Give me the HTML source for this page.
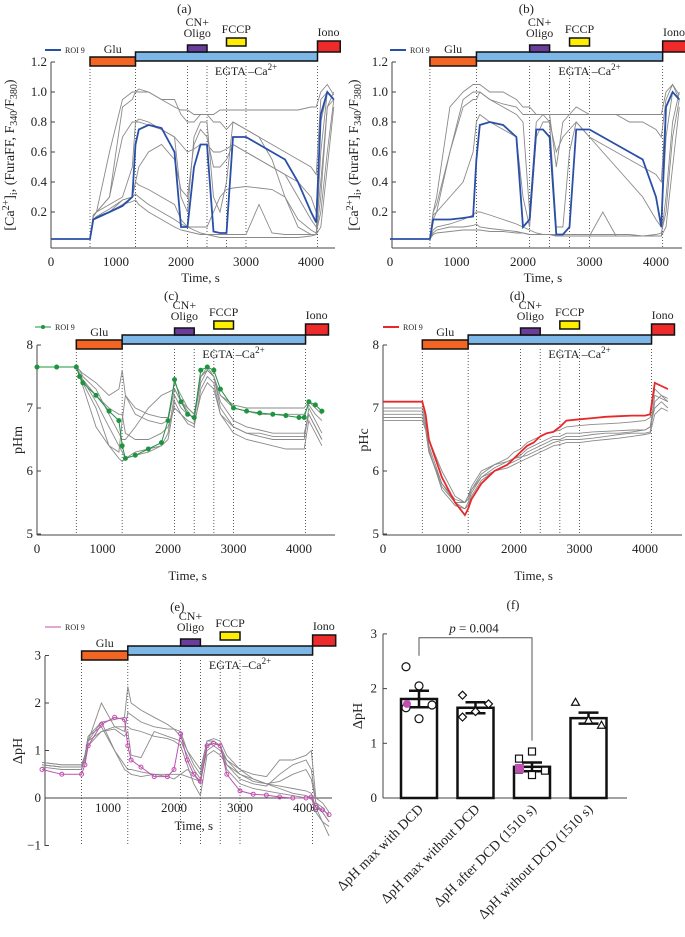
<!DOCTYPE html>
<html><head><meta charset="utf-8">
<style>
html,body{margin:0;padding:0;background:#fff;}
svg{display:block;font-family:"Liberation Serif",serif;}
</style></head>
<body>
<svg id="fig" width="685" height="937" viewBox="0 0 685 937" xmlns="http://www.w3.org/2000/svg"></svg>
<script>
const T=[0,300,600,650,700,900,1100,1250,1300,1350,1500,1700,1900,2000,2100,2200,2300,2400,2500,2600,2700,2800,3000,3200,3400,3600,3800,4000,4080,4150,4250,4350];
const treatTimes=[[600,1300],[1300,4100],[2100,2400],[2700,3000],[4100,4450]];
const dotTimes=[600,1300,2100,2400,2700,3000,4100];
const xTicks=[1000,2000,3000,4000];

const aRoi=[0.02,0.02,0.02,0.15,0.16,0.2,0.24,0.3,0.65,0.75,0.78,0.76,0.6,0.1,0.1,0.5,0.65,0.65,0.07,0.06,0.06,0.7,0.7,0.65,0.6,0.55,0.4,0.2,0.13,0.85,1.0,0.95];
const aG1=[0.02,0.02,0.02,0.18,0.2,0.6,0.95,1.0,1.0,1.02,1.0,0.95,0.9,0.88,0.88,0.85,0.85,0.85,0.85,0.88,0.88,0.88,0.88,0.88,0.88,0.88,0.88,0.9,0.9,1.0,1.05,0.98];
const aG2=[0.02,0.02,0.02,0.18,0.2,0.3,0.9,0.95,1.0,1.0,1.0,0.95,0.95,0.85,0.8,0.8,0.85,0.85,0.8,0.8,0.75,0.8,0.75,0.7,0.65,0.6,0.55,0.5,0.45,0.95,1.0,0.95];
const aG3=[0.02,0.02,0.02,0.17,0.2,0.25,0.3,0.5,0.8,0.8,0.78,0.75,0.7,0.3,0.2,0.7,0.8,0.8,0.3,0.2,0.4,0.8,0.75,0.7,0.55,0.3,0.1,0.05,0.05,0.6,1.0,0.95];
const aG4=[0.02,0.02,0.02,0.15,0.17,0.2,0.25,0.3,0.4,0.5,0.6,0.65,0.55,0.35,0.3,0.65,0.75,0.7,0.5,0.5,0.55,0.65,0.6,0.55,0.5,0.45,0.3,0.15,0.1,0.4,0.9,0.95];
const aG5=[0.02,0.02,0.02,0.15,0.17,0.22,0.28,0.3,0.4,0.38,0.35,0.3,0.25,0.15,0.1,0.1,0.1,0.1,0.2,0.3,0.35,0.36,0.37,0.36,0.35,0.3,0.15,0.08,0.06,0.2,0.6,0.95];
const aG6=[0.02,0.02,0.02,0.15,0.17,0.2,0.25,0.27,0.28,0.25,0.2,0.15,0.1,0.08,0.07,0.06,0.05,0.05,0.05,0.05,0.05,0.05,0.05,0.25,0.06,0.05,0.05,0.05,0.05,0.1,0.5,0.9];
const aG7=[0.02,0.02,0.02,0.15,0.17,0.2,0.28,0.3,0.32,0.3,0.25,0.2,0.15,0.12,0.1,0.08,0.06,0.05,0.04,0.03,0.03,0.03,0.03,0.03,0.03,0.03,0.03,0.04,0.05,0.3,0.9,1.0];
const aG8=[0.02,0.02,0.02,0.17,0.2,0.3,0.7,0.8,0.8,0.82,0.8,0.75,0.7,0.65,0.6,0.62,0.65,0.65,0.6,0.6,0.62,0.65,0.6,0.55,0.5,0.45,0.4,0.3,0.2,0.8,1.0,0.95];

const bRoi=[0.02,0.02,0.02,0.15,0.15,0.15,0.16,0.17,0.55,0.78,0.8,0.78,0.7,0.1,0.15,0.75,0.75,0.7,0.05,0.05,0.1,0.75,0.75,0.7,0.65,0.6,0.55,0.3,0.1,0.9,1.0,0.95];
const bG1=[0.02,0.02,0.02,0.2,0.3,0.9,1.0,1.05,1.05,1.05,1.0,1.0,0.95,0.9,0.9,0.85,0.85,0.85,0.85,0.85,0.85,0.85,0.85,0.85,0.85,0.85,0.85,0.85,0.85,1.0,1.05,0.95];
const bG2=[0.02,0.02,0.02,0.2,0.25,0.6,0.95,1.0,1.0,1.0,0.95,0.9,0.85,0.8,0.2,0.8,0.85,0.8,0.6,0.7,0.75,0.8,0.7,0.65,0.6,0.55,0.5,0.45,0.4,0.9,1.0,0.95];
const bG3=[0.02,0.02,0.02,0.18,0.2,0.3,0.4,0.6,0.8,0.85,0.8,0.75,0.7,0.3,0.1,0.7,0.8,0.8,0.1,0.1,0.6,0.8,0.7,0.6,0.5,0.4,0.3,0.15,0.1,0.7,1.0,0.95];
const bG4=[0.02,0.02,0.02,0.08,0.1,0.12,0.15,0.18,0.2,0.2,0.18,0.15,0.12,0.1,0.08,0.06,0.05,0.05,0.04,0.04,0.04,0.04,0.04,0.2,0.04,0.04,0.04,0.04,0.04,0.1,0.5,0.9];
const bG5=[0.02,0.02,0.02,0.05,0.06,0.07,0.08,0.08,0.08,0.08,0.07,0.07,0.06,0.06,0.05,0.05,0.05,0.05,0.05,0.05,0.05,0.05,0.05,0.05,0.05,0.05,0.04,0.04,0.04,0.3,0.8,1.0];
const bG6=[0.02,0.02,0.02,0.06,0.08,0.1,0.1,0.11,0.12,0.1,0.09,0.08,0.07,0.06,0.05,0.05,0.05,0.05,0.04,0.04,0.04,0.04,0.04,0.04,0.04,0.04,0.04,0.05,0.06,0.2,0.7,0.95];
const bG7=[0.02,0.02,0.02,0.15,0.2,0.6,0.9,0.95,0.95,1.0,0.95,0.92,0.9,0.85,0.85,0.85,0.85,0.85,0.5,0.8,0.85,0.9,0.85,0.85,0.85,0.8,0.8,0.75,0.7,0.95,1.05,0.98];

const cRoi=[7.65,7.65,7.65,7.5,7.4,7.2,6.95,6.8,6.4,6.2,6.25,6.35,6.45,6.8,7.45,7.1,6.9,6.85,7.6,7.65,7.6,7.3,7.0,6.95,6.92,6.9,6.88,6.85,6.85,7.1,7.05,6.95];
const cG1=[7.65,7.65,7.65,7.55,7.45,7.1,6.7,6.4,6.3,6.2,6.25,6.3,6.4,6.6,7.2,7.0,6.9,6.85,7.4,7.6,7.5,7.0,6.7,6.6,6.55,6.5,6.5,6.5,6.5,7.0,6.8,6.6];
const cG2=[7.65,7.65,7.65,7.5,7.35,6.7,6.4,6.3,6.8,7.2,7.0,6.9,6.85,6.85,7.4,7.2,7.0,6.9,7.5,7.6,7.5,7.2,7.05,7.0,7.0,7.0,7.0,7.0,7.0,7.1,7.0,6.9];
const cG3=[7.65,7.65,7.65,7.6,7.55,7.4,7.2,7.3,7.6,7.2,6.9,6.8,6.75,6.8,7.3,7.1,6.95,6.8,7.5,7.65,7.5,7.1,6.8,6.7,6.65,6.6,6.6,6.6,6.6,6.9,6.7,6.5];
const cG4=[7.65,7.65,7.65,7.55,7.4,7.0,6.4,6.2,6.15,6.2,6.3,6.35,6.4,6.5,7.1,6.9,6.75,6.7,7.3,7.5,7.4,6.9,6.6,6.5,6.45,6.4,6.35,6.35,6.35,6.8,6.6,6.4];
const cG5=[7.65,7.65,7.65,7.6,7.5,7.3,6.9,6.6,6.5,6.5,6.7,7.0,7.2,7.25,7.3,7.1,7.0,6.9,7.5,7.6,7.5,7.2,7.0,6.95,6.9,6.9,6.9,6.9,6.9,7.05,6.9,6.8];
const cG6=[7.65,7.65,7.65,7.55,7.45,7.2,7.0,6.9,6.9,6.6,6.5,6.5,6.6,6.7,7.0,6.9,6.8,6.75,7.2,7.4,7.3,6.9,6.7,6.6,6.6,6.55,6.55,6.55,6.55,6.9,6.7,6.5];

const dRoi=[7.1,7.1,7.1,6.9,6.5,5.9,5.5,5.3,5.4,5.55,5.8,6.0,6.1,6.2,6.3,6.4,6.45,6.55,6.6,6.62,6.7,6.8,6.82,6.84,6.86,6.87,6.88,6.88,6.9,7.4,7.35,7.3];
const dG1=[6.95,6.95,6.95,6.8,6.4,5.8,5.5,5.4,5.45,5.6,5.85,6.0,6.1,6.15,6.2,6.3,6.35,6.4,6.45,6.5,6.5,6.55,6.55,6.58,6.6,6.6,6.62,6.65,6.7,7.2,7.15,7.1];
const dG2=[6.9,6.9,6.9,6.75,6.35,5.7,5.45,5.4,5.5,5.65,5.9,6.05,6.15,6.2,6.25,6.35,6.4,6.45,6.5,6.55,6.55,6.6,6.6,6.62,6.63,6.64,6.65,6.65,6.7,7.0,7.1,7.0];
const dG3=[6.85,6.85,6.85,6.7,6.3,5.75,5.5,5.5,5.6,5.7,5.9,6.0,6.05,6.1,6.15,6.2,6.25,6.3,6.35,6.4,6.42,6.45,6.45,6.48,6.5,6.52,6.55,6.58,6.6,6.9,7.0,6.95];
const dG4=[7.0,7.0,7.0,6.85,6.5,6.0,5.6,5.5,5.55,5.7,5.95,6.1,6.2,6.3,6.35,6.45,6.5,6.55,6.6,6.62,6.65,6.7,6.72,6.74,6.75,6.76,6.78,6.8,6.85,7.3,7.2,7.1];
const dG5=[6.8,6.8,6.8,6.65,6.3,5.8,5.55,5.5,5.6,5.75,6.0,6.1,6.15,6.2,6.22,6.25,6.3,6.35,6.4,6.45,6.48,6.5,6.5,6.52,6.55,6.58,6.6,6.6,6.62,7.1,7.2,7.15];

const eRoi=[0.6,0.5,0.5,0.7,1.1,1.55,1.7,1.65,1.1,0.8,0.65,0.45,0.45,0.6,1.35,0.8,0.5,0.35,1.1,1.15,1.1,0.5,0.15,0.08,0.06,0.02,0.0,0.0,0.02,-0.2,-0.25,-0.35];
const eG1=[0.75,0.7,0.7,0.9,1.3,1.6,1.65,1.7,2.35,2.0,1.85,1.7,1.55,1.45,1.3,1.0,0.8,0.6,1.2,1.25,1.2,0.9,0.6,0.4,0.3,0.25,0.2,0.15,0.1,-0.2,-0.5,-0.8];
const eG2=[0.7,0.65,0.65,0.85,1.2,2.0,1.5,1.4,1.8,1.75,1.6,1.5,1.45,1.45,1.4,1.0,0.7,0.5,1.2,1.2,1.1,0.7,0.4,0.3,0.25,0.5,0.7,0.8,0.6,-0.1,-0.3,-0.5];
const eG3=[0.7,0.65,0.65,0.8,1.2,1.4,1.45,1.3,1.4,0.9,0.85,1.4,1.3,1.25,1.2,0.9,0.6,0.4,1.1,1.2,1.1,0.8,0.5,0.35,0.3,0.35,0.5,0.6,0.4,-0.1,-0.2,-0.4];
const eG4=[0.65,0.6,0.6,0.8,1.1,1.4,1.5,1.5,1.5,1.45,1.4,1.3,1.25,1.2,1.1,0.7,0.3,0.05,0.9,1.0,0.9,0.7,0.5,0.4,0.3,0.2,0.1,0.05,0.0,-0.3,-0.5,-0.6];
const eG5=[0.75,0.7,0.7,0.9,1.3,1.5,1.0,0.6,0.55,0.5,0.45,0.5,0.5,0.5,0.5,0.45,0.4,0.35,1.0,1.1,1.0,0.8,0.6,0.5,0.45,0.8,0.8,0.9,1.0,0.0,-0.1,-0.3];
const eG6=[0.7,0.65,0.65,0.85,1.2,1.6,1.0,0.7,0.6,0.6,0.55,0.5,0.45,0.4,0.5,0.6,0.5,0.3,1.1,1.2,1.1,0.6,0.3,0.2,0.15,0.1,0.05,0.0,0.0,-0.2,-0.3,-0.5];

const barCats=["ΔpH max with DCD","ΔpH max without DCD","ΔpH after DCD (1510 s)","ΔpH without DCD (1510 s)"];
const barMeans=[1.81,1.65,0.57,1.46];
const barErrs=[0.15,0.1,0.08,0.1];
const pts1=[2.4,2.05,1.7,1.65,1.45];
const pts2=[1.88,1.58,1.72,1.48];
const pts3=[0.72,0.85,0.5,0.52,0.42];
const pts4=[1.75,1.42,1.33];
const roiPts=[1.72,null,0.55,null];
const fTicks=[0,1,2,3];

const NS="http://www.w3.org/2000/svg";
const svg=document.getElementById('fig');
function mk(tag,attrs,parent){const e=document.createElementNS(NS,tag);for(const k in attrs)e.setAttribute(k,attrs[k]);(parent||svg).appendChild(e);return e;}
function txt(s,x,y,size,anchor,parent){const e=mk('text',{x:x,y:y,'font-size':size,'text-anchor':anchor||'middle',fill:'#222'},parent);e.textContent=s;return e;}

function panel(c){
  const g=mk('g',{});
  
  
  const X=t=>c.x0+t*c.xs, Y=v=>c.vy0-(v-c.v0)*c.ys;
  const tt=txt(c.title,X(2050),c.titleY,13,'middle',g);
  
  
  const cols=['#f26522','#7cb7e8','#6a3d9a','#ffee00','#ee2a2a'];
  const offs=[[-5,4],[-10,-1],[-17,-10],[-24,-16],[-21,-10]];
  const names=['glu-bar','egta-bar','cn-oligo-bar','fccp-bar','iono-bar'];
  treatTimes.forEach((tr,i)=>{
    const r=mk('rect',{x:X(tr[0]),y:c.ytop+offs[i][0],width:X(tr[1])-X(tr[0]),height:offs[i][1]-offs[i][0],fill:cols[i],stroke:'#111','stroke-width':1.5},g);
    
    
  });
  txt('Glu',X(950),c.ytop-9,12,'middle',g);
  txt('CN+',X(2250),c.ytop-36,12,'middle',g);
  txt('Oligo',X(2250),c.ytop-25,12,'middle',g);
  txt('FCCP',X(2850),c.ytop-29,12,'middle',g);
  txt('Iono',X(4270),c.ytop-26,12,'middle',g);
  const eg=mk('text',{x:X(3000),y:c.ytop+13,'font-size':12,'text-anchor':'middle',fill:'#222'},g);
  eg.innerHTML='EGTA –Ca<tspan dy="-5" font-size="9">2+</tspan>';
  dotTimes.forEach(t=>{
    const l=mk('line',{x1:X(t),x2:X(t),y1:c.ytop+4,y2:c.ybot,stroke:'#333','stroke-width':0.8,'stroke-dasharray':'1,2'},g);
    
    
  });
  const ya=mk('line',{x1:c.axX,x2:c.axX,y1:c.ytop,y2:c.ybot,stroke:'#444','stroke-width':1},g);
  
  
  c.yTicks.forEach(v=>{
    mk('line',{x1:c.axX,x2:c.axX+4,y1:Y(v),y2:Y(v),stroke:'#444'},g);
    const l=txt(c.fmt(v),c.axX-4,Y(v)+4,13,'end',g);
    
    
  });
  if(c.zeroLine){mk('line',{x1:c.axX,x2:c.xr,y1:Y(0),y2:Y(0),stroke:'#444'},g);}
  else{mk('line',{x1:c.axX,x2:c.xr,y1:c.ybot,y2:c.ybot,stroke:'#444'},g);}
  const xl=[...(c.zeroTick?[0]:[]),...xTicks];
  xl.forEach(t=>{
    const l=txt(String(t),X(t),c.xtY,13,'middle',g);
    
    
  });
  const xt=txt('Time, s',X(2300),c.xlabY,13,'middle',g);
  
  
  const yt=mk('text',{x:0,y:0,'font-size':14,'text-anchor':'middle',fill:'#222',transform:`translate(${c.ylabX},${(c.ytop+c.ybot)/2}) rotate(-90)`},g);
  yt.innerHTML=c.ylab;
  
  
  const path=a=>a.map((v,i)=>(i?'L':'M')+X(T[i]).toFixed(1)+','+Y(v).toFixed(1)).join('');
  c.grays.forEach(a=>{
    const p=mk('path',{d:path(a),fill:'none',stroke:'#8a8a8a','stroke-width':0.9},g);
    
    
  });
  const rp=mk('path',{d:path(c.roi),fill:'none',stroke:c.color,'stroke-width':c.marker?1:1.8},g);
  
  
  if(c.marker){c.roi.forEach((v,i)=>{
    const m=mk('circle',{cx:X(T[i]),cy:Y(v),r:2,fill:c.marker==='fill'?c.color:'none',stroke:c.color,'stroke-width':1},g);
    
    
  });}
  const lg=mk('g',{},g);
  
  
  mk('line',{x1:c.legX,x2:c.legX+16,y1:c.legY,y2:c.legY,stroke:c.color,'stroke-width':c.marker?1:2},lg);
  if(c.marker==='fill')mk('circle',{cx:c.legX+8,cy:c.legY,r:2,fill:c.color},lg);
  txt('ROI 9',c.legX+20,c.legY+3,8,'start',lg);
}

const f1=v=>v.toFixed(1), f0=v=>String(v).replace('-','−');
const caLab='[Ca<tspan dy="-5" font-size="10">2+</tspan><tspan dy="5">]</tspan><tspan dy="3" font-size="10">i</tspan><tspan dy="-3">, (FuraFF, F</tspan><tspan dy="3" font-size="10">340</tspan><tspan dy="-3">/F</tspan><tspan dy="3" font-size="10">380</tspan><tspan dy="-3">)</tspan>';
panel({name:'panel-a',title:'(a)',titleY:13,x0:51,xs:0.065,v0:0,vy0:242,ys:150,ytop:62,ybot:248,axX:51,xr:335,yTicks:[0.2,0.4,0.6,0.8,1.0,1.2],fmt:f1,xtY:266,xlabY:282,ylabX:14,ylab:caLab,zeroTick:true,grays:[aG1,aG2,aG3,aG4,aG5,aG6,aG7,aG8],roi:aRoi,color:'#2a4fa8',legX:45,legY:50});
panel({name:'panel-b',title:'(b)',titleY:13,x0:390,xs:0.0665,v0:0,vy0:242,ys:150,ytop:62,ybot:248,axX:392,xr:682,yTicks:[0.2,0.4,0.6,0.8,1.0,1.2],fmt:f1,xtY:266,xlabY:282,ylabX:358,ylab:caLab,zeroTick:true,grays:[bG1,bG2,bG3,bG4,bG5,bG6,bG7],roi:bRoi,color:'#2a4fa8',legX:390,legY:50});
panel({name:'panel-c',title:'(c)',titleY:300,x0:37,xs:0.0655,v0:8,vy0:345,ys:63,ytop:345,ybot:535,axX:37,xr:335,yTicks:[5,6,7,8],fmt:f0,xtY:553,xlabY:580,ylabX:22,ylab:'pHm',zeroTick:true,grays:[cG1,cG2,cG3,cG4,cG5,cG6],roi:cRoi,color:'#1e9440',marker:'fill',legX:35,legY:327});
panel({name:'panel-d',title:'(d)',titleY:300,x0:383,xs:0.0655,v0:8,vy0:345,ys:63,ytop:345,ybot:535,axX:383,xr:682,yTicks:[5,6,7,8],fmt:f0,xtY:553,xlabY:580,ylabX:368,ylab:'pHc',zeroTick:true,grays:[dG1,dG2,dG3,dG4,dG5],roi:dRoi,color:'#e8282a',legX:383,legY:327});
panel({name:'panel-e',title:'(e)',titleY:611,x0:42,xs:0.066,v0:0,vy0:798,ys:47.5,ytop:656,ybot:846,axX:45,xr:332,yTicks:[-1,0,1,2,3],fmt:f0,xtY:812,xlabY:830,ylabX:22,ylab:'ΔpH',zeroLine:true,zeroTick:false,grays:[eG1,eG2,eG3,eG4,eG5,eG6],roi:eRoi,color:'#c050b0',marker:'open',legX:45,legY:627});

(function(){
  const g=mk('g',{});
  
  
  const ax=383, y0=798, ys=54.7, Y=v=>y0-v*ys;
  const bx=i=>419+i*56.5, bw=36;
  txt('(f)',513,609,13,'middle',g);
  mk('line',{x1:ax,x2:ax,y1:Y(3),y2:Y(0),stroke:'#444'},g);
  mk('line',{x1:ax,x2:627,y1:Y(0),y2:Y(0),stroke:'#444'},g);
  fTicks.forEach(v=>{mk('line',{x1:ax,x2:ax+4,y1:Y(v),y2:Y(v),stroke:'#444'},g);
    const l=txt(String(v),ax-6,Y(v)+4,13,'end',g);
    
    });
  const yt=mk('text',{x:0,y:0,'font-size':14,'text-anchor':'middle',fill:'#222',transform:`translate(362,716) rotate(-90)`},g);
  yt.textContent='ΔpH';
  
  
  const allPts=[pts1,pts2,pts3,pts4];
  barCats.forEach((cat,i)=>{
    const cx=bx(i);
    const r=mk('rect',{x:cx-bw/2,y:Y(barMeans[i]),width:bw,height:Y(0)-Y(barMeans[i]),fill:'#fff',stroke:'#111','stroke-width':2.5},g);
    
    
    const e=mk('path',{d:`M${cx},${Y(barMeans[i]-barErrs[i])}V${Y(barMeans[i]+barErrs[i])}M${cx-10},${Y(barMeans[i]+barErrs[i])}h20M${cx-10},${Y(barMeans[i]-barErrs[i])}h20`,stroke:'#111','stroke-width':2.5,fill:'none'},g);
    
    
    allPts[i].forEach((v,j)=>{
      const px=cx+((j%3)-1)*13, py=Y(v);
      let m;
      if(i===0)m=mk('circle',{cx:px,cy:py,r:4,fill:'#fff',stroke:'#111','stroke-width':1.2},g);
      else if(i===1)m=mk('path',{d:`M${px},${py-4}l4,4l-4,4l-4,-4z`,fill:'#fff',stroke:'#111','stroke-width':1.2},g);
      else if(i===2)m=mk('rect',{x:px-3.5,y:py-3.5,width:7,height:7,fill:'#fff',stroke:'#111','stroke-width':1.2},g);
      else m=mk('path',{d:`M${px},${py-4}l4,7h-8z`,fill:'#fff',stroke:'#111','stroke-width':1.2},g);
      
      
    });
    if(roiPts[i]!==null){
      const py=Y(roiPts[i]);
      const m=i===0?mk('circle',{cx:cx-12,cy:py,r:4,fill:'#c050b0'},g):mk('rect',{x:cx-17,y:py-4,width:9,height:9,fill:'#c050b0'},g);
      
      
    }
    const l=mk('text',{x:0,y:0,'font-size':14,'text-anchor':'end',fill:'#222',transform:`translate(${cx+5},${Y(0)+12}) rotate(-45)`},g);
    l.textContent=cat;
    
    
  });
  const br=mk('path',{d:`M${bx(0)},${Y(2.6)}V${Y(2.93)}H${bx(2)}V${Y(1.05)}`,fill:'none',stroke:'#555','stroke-width':1},g);
  
  
  const p=mk('text',{x:474,y:Y(2.93)-5,'font-size':13,'text-anchor':'middle',fill:'#222'},g);
  p.innerHTML='<tspan font-style="italic">p</tspan> = 0.004';
  
  
})();
</script>
</body></html>
